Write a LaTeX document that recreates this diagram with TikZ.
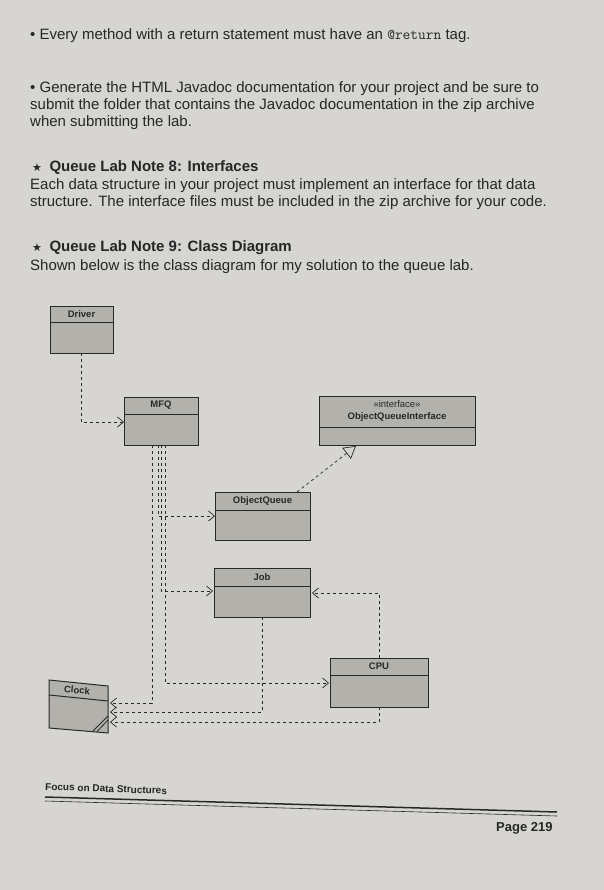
\documentclass[tikz,border=0pt]{standalone}
\usepackage{fontspec}
\setmainfont{Liberation Sans}
\newfontfamily\symfont{DejaVu Sans}
\usetikzlibrary{arrows.meta}
\definecolor{paper}{RGB}{214,213,210}
\definecolor{boxfill}{RGB}{178,177,172}
\definecolor{ink}{RGB}{40,40,40}
\tikzset{
  cls/.style={draw=ink, line width=1pt, fill=boxfill},
  ttl/.style={font=\fontsize{9.5}{11}\selectfont\bfseries, text=ink},
  dep/.style={draw=ink, dashed, line width=0.7pt, -{Straight Barb[length=6pt,width=10pt]}},
  real/.style={draw=ink, dashed, line width=0.7pt, -{Triangle[open,length=12pt,width=14pt,fill=paper]}},
  txt/.style={anchor=base west, inner sep=0pt, font=\fontsize{15}{17}\selectfont, text=black!85},
}
\newcommand{\umlbox}[6]{%
  \path[cls] (#2,#3) rectangle (#4,#5);
  \draw[ink, line width=1pt] (#2,#6) -- (#4,#6);
}
\begin{document}
\begin{tikzpicture}[x=1pt,y=-1pt]
\path[fill=paper] (0,0) rectangle (604,890);
\useasboundingbox (0,0) rectangle (604,890);
\node[txt] (t1) at (30,40) {• Every method with a return statement must have an {\ttfamily @return} tag.};
\node[txt] (t2) at (30,93) {• Generate the HTML Javadoc documentation for your project and be sure to};
\node[txt] (t3) at (30,110) {submit the folder that contains the Javadoc documentation in the zip archive};
\node[txt] (t4) at (30,127) {when submitting the lab.};
\node[txt, font=\fontsize{15}{17}\selectfont\bfseries] (t5) at (32,172) {{\symfont\fontsize{11}{13}\selectfont ★}\enspace Queue Lab Note 8: Interfaces};
\node[txt] (t6) at (30,190) {Each data structure in your project must implement an interface for that data};
\node[txt] (t7) at (30,207) {structure. The interface files must be included in the zip archive for your code.};
\node[txt, font=\fontsize{15}{17}\selectfont\bfseries] (t8) at (32,252) {{\symfont\fontsize{11}{13}\selectfont ★}\enspace Queue Lab Note 9: Class Diagram};
\node[txt] (t9) at (30,270) {Shown below is the class diagram for my solution to the queue lab.};
\umlbox{drv}{50}{306}{113}{353}{322}
\node[ttl] (drvt) at (81.5,314) {Driver};
\umlbox{mfq}{124}{397}{198}{445}{414}
\node[ttl] (mfqt) at (161,405.5) {MFQ};
\umlbox{itf}{319}{396}{475}{445}{427}
\node[ttl, align=center, font=\fontsize{9.5}{12}\selectfont\bfseries] (itft) at (397,411.5) {{\mdseries\textless\textless interface\textgreater\textgreater}\\ObjectQueueInterface};
\umlbox{oq}{215}{492}{310}{540}{510}
\node[ttl] (oqt) at (262.5,501) {ObjectQueue};
\umlbox{job}{214}{568}{310}{617}{586}
\node[ttl] (jobt) at (262,577) {Job};
\umlbox{cpu}{330}{658}{428}{707}{675}
\node[ttl] (cput) at (379,666.5) {CPU};
\path[cls] (49,680) -- (108,686) -- (108,733) -- (49,728) -- cycle;
\draw[ink, line width=1pt] (49,695) -- (108,701);
\draw[ink, line width=0.8pt] (93,731) -- (108,716) (97,731.5) -- (108,720);
\node[ttl, rotate=-5] (clkt) at (77,690) {Clock};
\draw[dep] (81,353) |- (124,422);
\draw[dep] (158,445) |- (215,516);
\draw[dep] (161,445) |- (213,591);
\draw[dep] (165,445) |- (329,683);
\draw[dep] (152,445) |- (110,703);
\draw[dep] (262,617) |- (110,712);
\draw[dep] (379,707) |- (110,722);
\draw[dep] (379,658) |- (312,593);
\draw[real] (297,492) -- (356,446);
\node[txt, font=\fontsize{10}{12}\selectfont\bfseries, rotate=-2] (ft) at (45,790) {Focus on Data Structures};
\draw[ink, line width=1.5pt] (45,797) -- (557,812);
\draw[ink, line width=0.6pt] (45,801) -- (557,816);
\node[txt, font=\fontsize{13}{15}\selectfont\bfseries] (pg) at (496,831) {Page 219};
\end{tikzpicture}
\end{document}
